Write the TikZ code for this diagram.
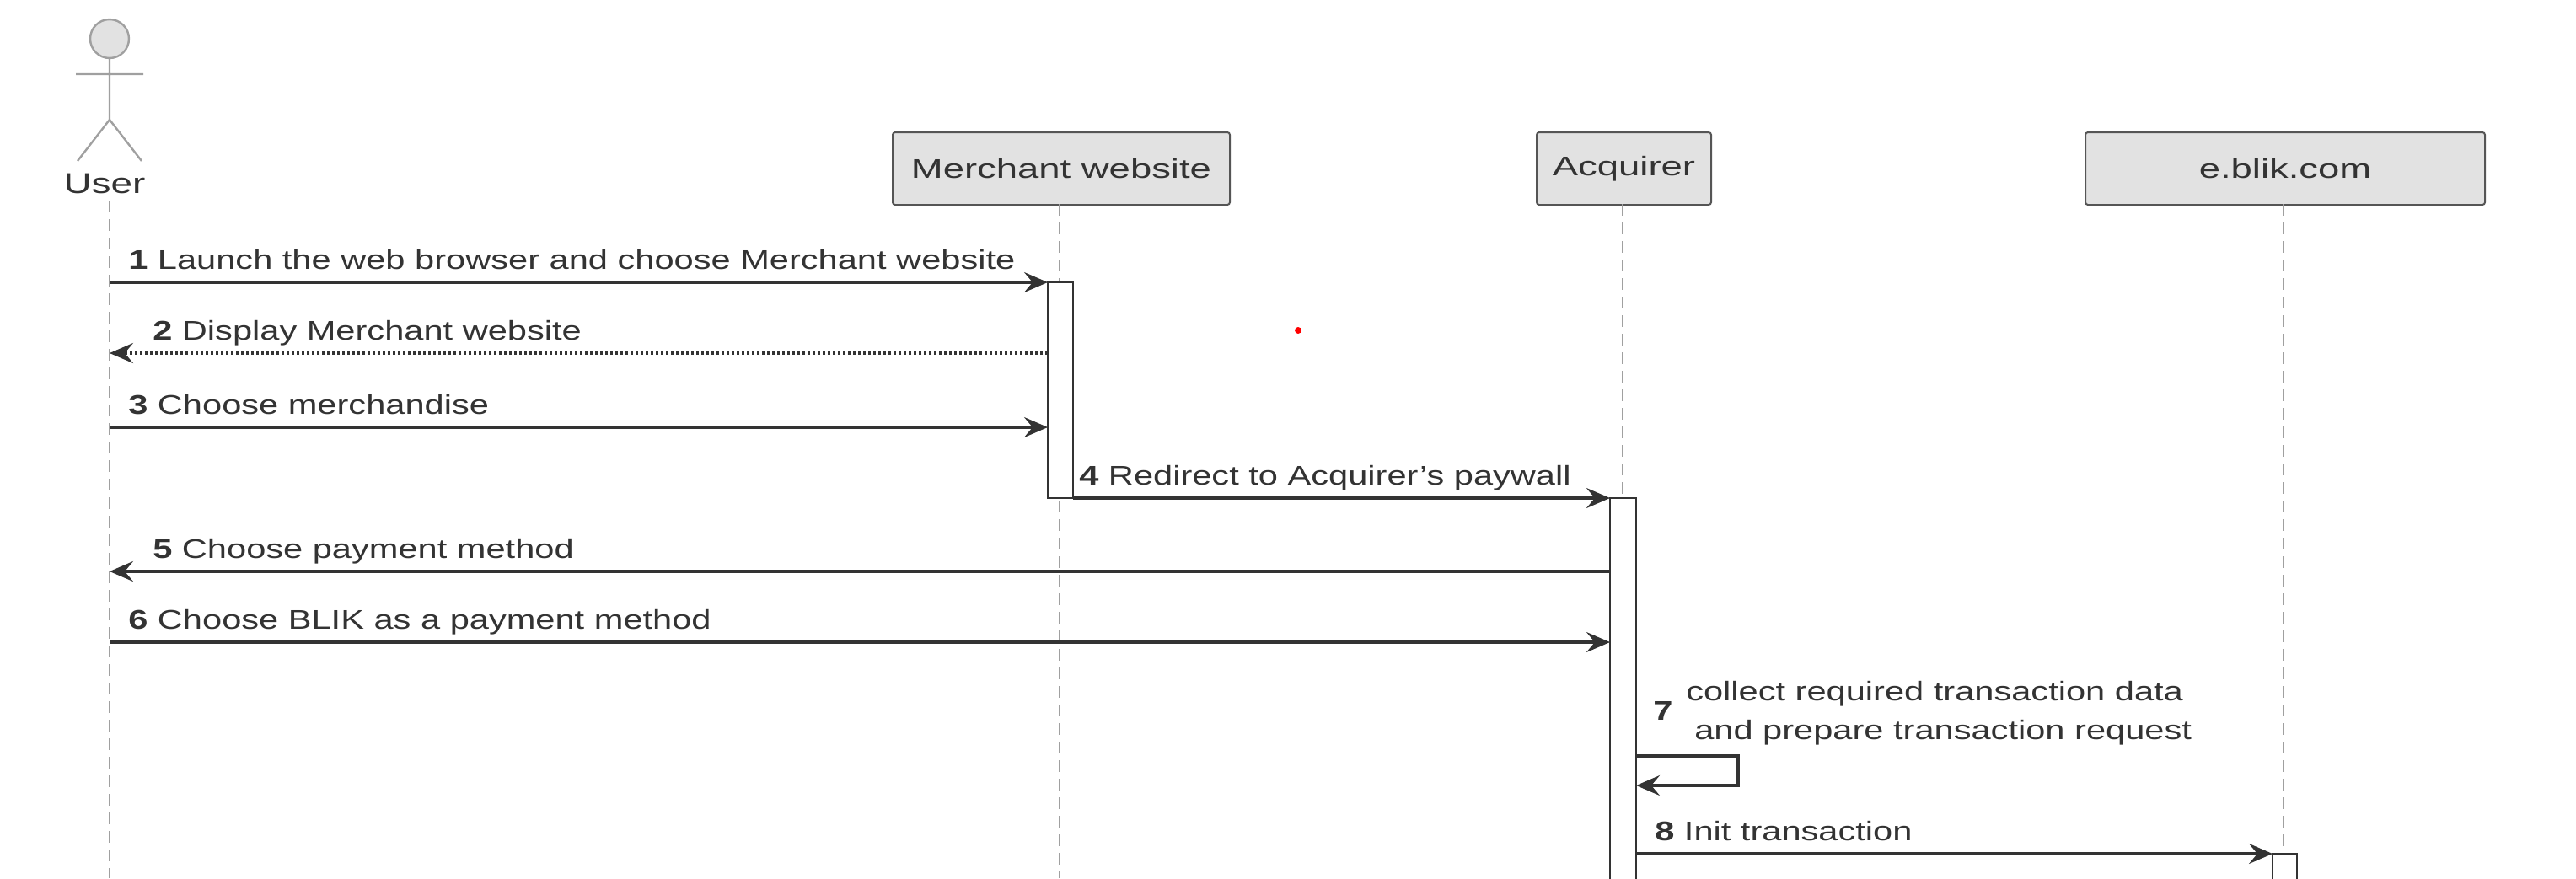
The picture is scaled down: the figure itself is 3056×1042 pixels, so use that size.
\documentclass[tikz,border=0pt]{standalone}
\usepackage{fontspec}
\setmainfont{Liberation Sans}
\usetikzlibrary{arrows.meta}
\definecolor{boxfill}{HTML}{E2E2E2}
\definecolor{boxline}{HTML}{555555}
\definecolor{life}{HTML}{A0A0A0}
\definecolor{ink}{HTML}{333333}
\begin{document}
\begin{tikzpicture}[x=1pt,y=-1pt,
  part/.style={draw=boxline,line width=2pt,fill=boxfill,rounded corners=3pt,inner sep=0pt,font=\fontsize{32}{36}\selectfont,text=ink,anchor=north west},
  lifeline/.style={draw=life,line width=2pt,dash pattern=on 14pt off 8pt},
  act/.style={draw=ink,line width=2.4pt,fill=white},
  msg/.style={draw=ink,line width=3.4pt,-{Stealth[length=28pt,width=24pt,inset=10pt]}},
  ret/.style={msg,dash pattern=on 3pt off 3pt},
  lab/.style={font=\fontsize{32}{38}\selectfont,text=ink,anchor=base west,inner sep=0pt,transform shape,xscale=1.3},
  actor/.style={draw=life,line width=2.4pt}]
\useasboundingbox (0,0) rectangle (3056,1042);
% participants
\node[part,minimum width=400pt,minimum height=86pt] (m) at (1058,156) {\scalebox{1.42}[1]{Merchant website}};
\node[part,minimum width=207pt,minimum height=86pt] (a) at (1822,156) {\scalebox{1.42}[1]{Acquirer}};
\node[part,minimum width=474pt,minimum height=86pt] (e) at (2473,156) {\scalebox{1.42}[1]{e.blik.com}};
% actor
\node[circle,draw=life,fill=boxfill,line width=2.4pt,minimum size=46pt,inner sep=0pt] (head) at (130,46) {};
\coordinate (hip) at (130,142);
\coordinate (la) at (90,88); \coordinate (ra) at (170,88);
\coordinate (ll) at (92,191); \coordinate (rl) at (168,191);
\draw[actor] (head.south) -- (hip) (la) -- (ra) (ll) -- (hip) -- (rl);
\node[font=\fontsize{34}{38}\selectfont,text=ink,transform shape,xscale=1.35] (ul) at (124,218) {User};
% lifelines
\coordinate (u0) at (130,238); \coordinate (u1) at (130,1042);
\coordinate (m0) at (1257,242); \coordinate (m1) at (1257,1042);
\coordinate (a0) at (1925,242); \coordinate (a1) at (1925,1042);
\coordinate (e0) at (2709,242); \coordinate (e1) at (2709,1042);
\draw[lifeline] (u0) -- (u1);
\draw[lifeline] (m0) -- (m1);
\draw[lifeline] (a0) -- (a1);
\draw[lifeline] (e0) -- (e1);
% activations
\draw[act] (1243,335) rectangle (1273,591);
\draw[act] (1910,591) rectangle (1941,1050);
\draw[act] (2696,1013) rectangle (2725,1050);
% message endpoints
\coordinate (s1) at (130,335); \coordinate (t1) at (1243,335);
\coordinate (s2) at (1243,419); \coordinate (t2) at (130,419);
\coordinate (s3) at (130,507); \coordinate (t3) at (1243,507);
\coordinate (s4) at (1273,591); \coordinate (t4) at (1910,591);
\coordinate (s5) at (1910,678); \coordinate (t5) at (130,678);
\coordinate (s6) at (130,762); \coordinate (t6) at (1910,762);
\coordinate (s7) at (1941,897); \coordinate (k1) at (2062,897); \coordinate (k2) at (2062,932); \coordinate (t7) at (1941,932);
\coordinate (s8) at (1941,1013); \coordinate (t8) at (2696,1013);
\draw[msg] (s1) -- (t1);
\draw[ret] (s2) -- (t2);
\draw[msg] (s3) -- (t3);
\draw[msg] (s4) -- (t4);
\draw[msg] (s5) -- (t5);
\draw[msg] (s6) -- (t6);
\draw[msg] (s7) -- (k1) -- (k2) -- (t7);
\draw[msg] (s8) -- (t8);
% labels
\node[lab] (l1) at (152,319) {\textbf{1} Launch the web browser and choose Merchant website};
\node[lab] (l2) at (181,403) {\textbf{2} Display Merchant website};
\node[lab] (l3) at (152,491) {\textbf{3} Choose merchandise};
\node[lab] (l4) at (1280,575) {\textbf{4} Redirect to Acquirer's paywall};
\node[lab] (l5) at (181,662) {\textbf{5} Choose payment method};
\node[lab] (l6) at (152,746) {\textbf{6} Choose BLIK as a payment method};
\node[lab] (l7) at (1961,854) {\textbf{7}};
\node[lab] (l7a) at (2000,831) {collect required transaction data};
\node[lab] (l7b) at (2010,877) {and prepare transaction request};
\node[lab] (l8) at (1963,997) {\textbf{8} Init transaction};
\fill[red] (1540,392) circle (4pt);
\end{tikzpicture}
\end{document}
